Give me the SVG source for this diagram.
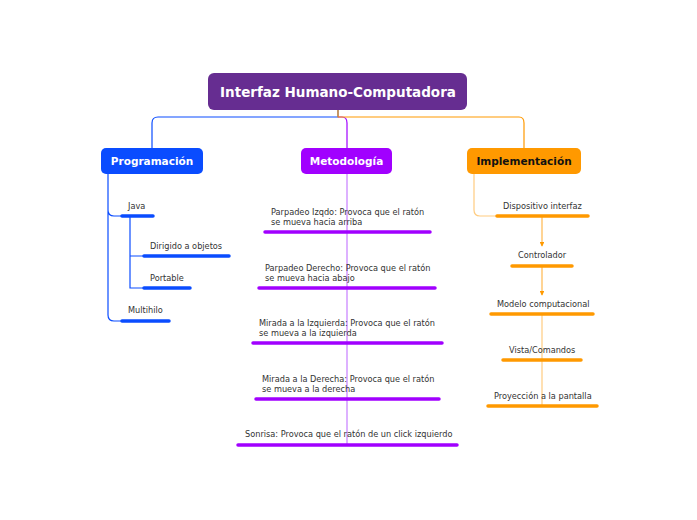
<svg xmlns="http://www.w3.org/2000/svg" width="697" height="520" viewBox="0 0 697 520">
<style>
text{font-family:"DejaVu Sans",Verdana,sans-serif;font-size:8.2px;fill:#333}
.h{font-weight:bold;font-size:10.5px;fill:#fff;text-anchor:middle}
.bar{stroke-width:3.5;stroke-linecap:round;fill:none}
.c{fill:none;stroke-width:1.2}
</style>
<defs><marker id="a" viewBox="0 0 6 6" refX="5" refY="3" markerWidth="4" markerHeight="4" orient="auto"><path d="M0,0L6,3L0,6z" fill="#ff9900"/></marker></defs>
<rect width="697" height="520" fill="#fff"/>
<g id="connectors">
<path class="c" stroke="#0a4cff" d="M338,110V117H158Q152,117 152,123V148"/>
<path class="c" stroke="#a100ff" d="M338,117H342Q347,117 347,123V148"/>
<path class="c" stroke="#ff9900" d="M338,110V117H519Q524,117 524,123V148"/>
<path class="c" stroke="#0a4cff" d="M108,174V210Q108,216 114,216H121M108,210V315Q108,321 114,321H121"/>
<path class="c" stroke="#0a4cff" d="M130,216V256H143M130,256V288H143"/>
<path class="c" stroke="#c77dff" d="M347,174V445"/>
<path class="c" stroke="#ffcc80" d="M474,174V210Q474,216 480,216H497"/>
<path class="c" stroke="#ffb84d" d="M542,216V246" marker-end="url(#a)"/>
<path class="c" stroke="#ffb84d" d="M542,266V295" marker-end="url(#a)"/>
<path class="c" stroke="#ffcc80" d="M542,314V360M542,360V406"/>
</g>
<g id="root"><rect x="208" y="73" width="259" height="37" rx="6" fill="#662d91"/><text x="338" y="96.5" class="h" style="font-size:13.5px">Interfaz Humano-Computadora</text></g>
<g id="programacion"><rect x="101" y="148" width="102" height="26" rx="5" fill="#0a4cff"/><text x="152" y="165" class="h">Programación</text></g>
<g id="metodologia"><rect x="301" y="148" width="91" height="26" rx="5" fill="#a100ff"/><text x="346.5" y="165" class="h">Metodología</text></g>
<g id="implementacion"><rect x="467" y="148" width="114" height="26" rx="5" fill="#ff9900"/><text x="524" y="165" class="h" style="fill:#111">Implementación</text></g>
<g id="java"><text x="128" y="209">Java</text><path class="bar" stroke="#0a4cff" d="M122,216H153"/></g>
<g id="dirigido"><text x="150" y="249">Dirigido a objetos</text><path class="bar" stroke="#0a4cff" d="M144,256H229"/></g>
<g id="portable"><text x="150" y="281">Portable</text><path class="bar" stroke="#0a4cff" d="M144,288H190"/></g>
<g id="multihilo"><text x="128" y="313">Multihilo</text><path class="bar" stroke="#0a4cff" d="M122,321H169"/></g>
<g id="m1"><text x="271" y="215">Parpadeo Izqdo: Provoca que el ratón</text><text x="271" y="225">se mueva hacia arriba</text><path class="bar" stroke="#a100ff" d="M265,232H430"/></g>
<g id="m2"><text x="265" y="271">Parpadeo Derecho: Provoca que el ratón</text><text x="265" y="281">se mueva hacia abajo</text><path class="bar" stroke="#a100ff" d="M259,288H435"/></g>
<g id="m3"><text x="259" y="326">Mirada a la Izquierda: Provoca que el ratón</text><text x="259" y="336">se mueva a la izquierda</text><path class="bar" stroke="#a100ff" d="M253,343H442"/></g>
<g id="m4"><text x="262" y="382">Mirada a la Derecha: Provoca que el ratón</text><text x="262" y="392">se mueva a la derecha</text><path class="bar" stroke="#a100ff" d="M256,399H439"/></g>
<g id="m5"><text x="245" y="437">Sonrisa: Provoca que el ratón de un click izquierdo</text><path class="bar" stroke="#a100ff" d="M238,445H457"/></g>
<g id="i1"><text x="503" y="209">Dispositivo interfaz</text><path class="bar" stroke="#ff9900" d="M497,216H588"/></g>
<g id="i2"><text x="518" y="258">Controlador</text><path class="bar" stroke="#ff9900" d="M512,266H572"/></g>
<g id="i3"><text x="497" y="307">Modelo computacional</text><path class="bar" stroke="#ff9900" d="M491,314H593"/></g>
<g id="i4"><text x="509" y="353">Vista/Comandos</text><path class="bar" stroke="#ff9900" d="M503,360H581"/></g>
<g id="i5"><text x="494" y="399">Proyección a la pantalla</text><path class="bar" stroke="#ff9900" d="M488,406H597"/></g>
</svg>
